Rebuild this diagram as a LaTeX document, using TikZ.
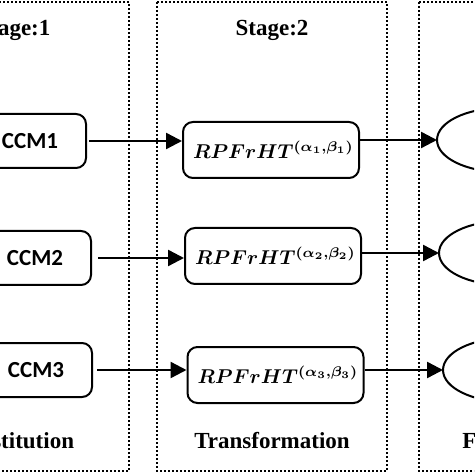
\documentclass[tikz,border=0pt]{standalone}
\usepackage{fontspec}
\setmainfont{Liberation Serif}
\newfontfamily\ccmfont{Carlito}
\usepackage{amsmath,bm}
\usetikzlibrary{arrows.meta,shapes.geometric}

\tikzset{
  stagebox/.style={draw, line width=1pt, dash pattern=on 1pt off 1pt},
  stagetext/.style={font=\bfseries\fontsize{11.5}{14}\selectfont, inner sep=0pt},
  ccm/.style={draw, line width=1pt, rounded corners=5pt, minimum width=56pt, minimum height=27pt, font=\ccmfont\bfseries\fontsize{11.5}{13}\selectfont},
  hart/.style={draw, line width=1pt, rounded corners=5pt, minimum width=88pt, minimum height=28pt},
  hartlabel/.style={anchor=east, inner sep=0pt, font=\fontsize{10}{12}\selectfont},
  fus/.style={draw, ellipse, line width=1pt, minimum width=65pt, minimum height=32pt, inner sep=0pt, outer sep=0pt},
  flow/.style={line width=1.2pt, -{Triangle[length=8pt,width=8pt]}}
}

\begin{document}
\begin{tikzpicture}[x=0.5pt, y=-0.5pt]
  \useasboundingbox (0,0) rectangle (474,474);
  \clip (0,0) rectangle (474,474);

  % Stages
  \draw[stagebox] (-101,2) rectangle (129,471);
  \draw[stagebox] (157,2) rectangle (387,471);
  \draw[stagebox] (419,2) rectangle (649,471);
  \node[stagetext] (s1) at (14,30) {Stage:1};
  \node[stagetext] (s2) at (272,30) {Stage:2};
  \node[stagetext] (b1) at (14,441) {Substitution};
  \node[stagetext] (b2) at (272,441) {Transformation};
  \node[stagetext, anchor=west] (b3) at (462,441) {F};

  % Stage 1: CCM blocks
  \node[ccm] (ccm1) at (30,141) {CCM1};
  \node[ccm] (ccm2) at (35,258) {CCM2};
  \node[ccm] (ccm3) at (36,370) {CCM3};

  % Stage 2: transforms
  \node[hart] (t1) at (271,150) {};
  \node[hart] (t2) at (273,256) {};
  \node[hart] (t3) at (275.5,375) {};
  \node[hartlabel] (l1) at ([xshift=-3pt]t1.east) {$\bm{RPFrHT^{(\alpha_1,\beta_1)}}$};
  \node[hartlabel] (l2) at ([xshift=-3pt]t2.east) {$\bm{RPFrHT^{(\alpha_2,\beta_2)}}$};
  \node[hartlabel] (l3) at ([xshift=-3pt]t3.east) {$\bm{RPFrHT^{(\alpha_3,\beta_3)}}$};

  % Stage 3
  \node[fus] (e1) at (502,140) {};
  \node[fus] (e2) at (504,253) {};
  \node[fus] (e3) at (508,370) {};

  % Arrows
  \draw[flow] ([xshift=1pt]ccm1.east) -- (ccm1.east -| t1.west);
  \draw[flow] ([xshift=3pt]ccm2.east) -- (ccm2.east -| t2.west);
  \draw[flow] ([xshift=2pt]ccm3.east) -- (ccm3.east -| t3.west);
  \draw[flow] (t1.east |- e1.west) -- (e1.west);
  \draw[flow] (t2.east |- e2.west) -- (e2.west);
  \draw[flow] (t3.east |- e3.west) -- (e3.west);
\end{tikzpicture}
\end{document}
